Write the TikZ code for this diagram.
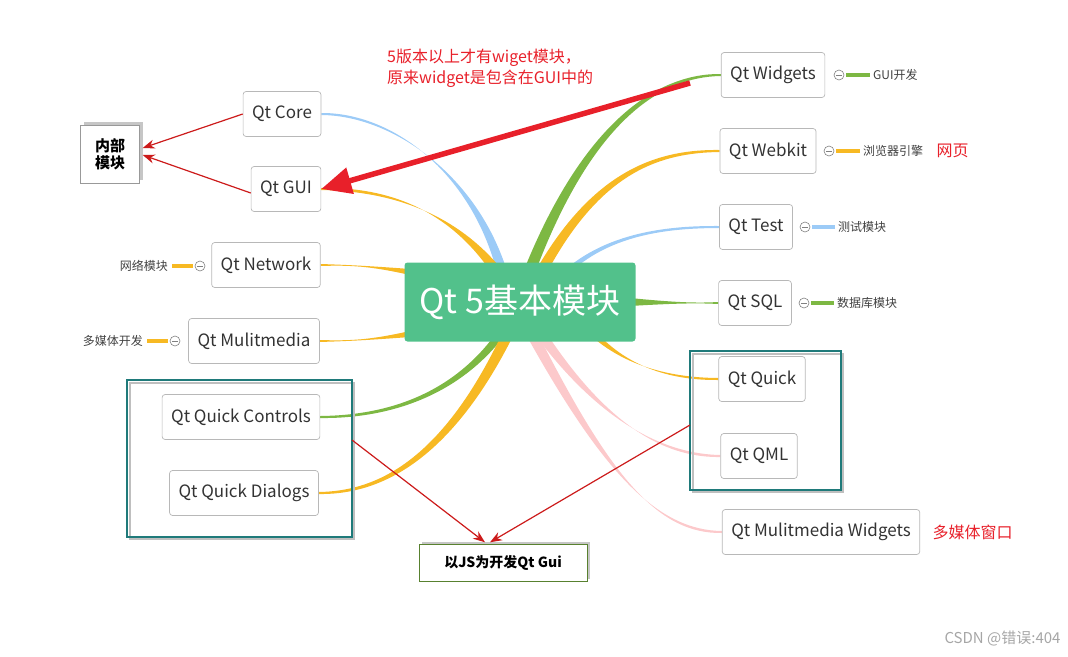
\documentclass[tikz,border=0pt]{standalone}
\usepackage{fontspec}
\setmainfont{Noto Sans CJK SC}
\usetikzlibrary{calc,shadows,arrows.meta,backgrounds}
\definecolor{tgreen}{HTML}{52C18B}
\definecolor{bgreen}{HTML}{7DB843}
\definecolor{borange}{HTML}{F7B923}
\definecolor{bblue}{HTML}{9CCBF7}
\definecolor{bpink}{HTML}{FCC9CB}
\definecolor{teal}{HTML}{1F7A7A}
\definecolor{rred}{HTML}{E8202A}
\definecolor{dred}{HTML}{CC1B1B}
\definecolor{txt}{HTML}{333333}
\tikzset{x=1pt,y=-1pt,
 mod/.style={draw=black!28,rounded corners=3pt,fill=white,text=txt,font=\fontsize{17}{20}\selectfont,minimum height=45,inner xsep=9,line width=0.7},
 sub/.style={text=black!75,font=\fontsize{12}{14}\selectfont,inner sep=0},
 col/.style={draw=black!50,circle,minimum size=10,inner sep=0,line width=0.6,path picture={\draw[black!50,line width=0.6] ([xshift=-3pt]path picture bounding box.center) -- ([xshift=3pt]path picture bounding box.center);}},
 redtxt/.style={text=rred,font=\fontsize{16}{21}\selectfont},
 thinarr/.style={draw=dred,line width=1.2,-{Stealth[length=12,width=9]}},
 tbox/.style={draw=teal,line width=1.4},
 tshadow/.style={draw=black!25,line width=2.5}}
\newcommand{\branch}[6]{% color, start, c1, c2, end, halfwidth
 \fill[#1] ($#2+(-#6,0)$) .. controls ($#3+(-#6*0.6,-#6*0.3)$) and ($#4+(0,-#6*0.3)$) .. ($#5+(0,-1)$) -- ($#5+(0,1)$) .. controls ($#4+(0,#6*0.3)$) and ($#3+(#6*0.6,#6*0.3)$) .. ($#2+(#6,0)$) -- cycle;}
\newcommand{\hbranch}[6]{%
 \fill[#1] ($#2+(0,-#6)$) .. controls #3 and #4 .. ($#5+(0,-1)$) -- ($#5+(0,1)$) .. controls #4 and #3 .. ($#2+(0,#6)$) -- cycle;}
\begin{document}
\begin{tikzpicture}
\useasboundingbox (0,0) rectangle (1068,656);
\draw[tshadow] (130,383) rectangle (354,539);
\draw[tbox] (127,380) rectangle (352,537);
\draw[tshadow] (693,354) rectangle (843,492);
\draw[tbox] (690,351) rectangle (841,490);
\node[fill=tgreen,rounded corners=3pt,minimum width=231,minimum height=79,text=white,font=\fontsize{34}{38}\selectfont] (c) at (520,302) {Qt 5基本模块};
\node[mod] (core) at (282,114) {Qt Core};
\node[mod] (gui) at (286,189) {Qt GUI};
\node[mod] (net) at (266,265) {Qt Network};
\node[mod] (mm) at (254,341) {Qt Mulitmedia};
\node[mod] (qc) at (241,417) {Qt Quick Controls};
\node[mod] (qd) at (244,493) {Qt Quick Dialogs};
\node[mod] (wid) at (773,75) {Qt Widgets};
\node[mod] (web) at (768,151) {Qt Webkit};
\node[mod] (test) at (756,227) {Qt Test};
\node[mod] (sql) at (755,303) {Qt SQL};
\node[mod] (qk) at (762,379) {Qt Quick};
\node[mod] (qml) at (759,456) {Qt QML};
\node[mod] (mmw) at (821,532) {Qt Mulitmedia Widgets};
\begin{scope}[on background layer]
\branch{bblue}{(500,265)}{(470,170)}{(390,114)}{(core.east)}{5}
\branch{borange}{(492,265)}{(440,200)}{(370,189)}{(gui.east)}{6}
\branch{bgreen}{(532,265)}{(590,120)}{(660,75)}{(wid.west)}{6}
\branch{borange}{(545,265)}{(600,170)}{(660,151)}{(web.west)}{6}
\branch{bblue}{(575,265)}{(620,230)}{(680,227)}{(test.west)}{4}
\branch{bgreen}{(496,340)}{(440,410)}{(360,417)}{(qc.east)}{5}
\branch{borange}{(505,340)}{(440,470)}{(370,493)}{(qd.east)}{6}
\branch{borange}{(600,340)}{(640,375)}{(690,379)}{(qk.west)}{4}
\branch{bpink}{(545,340)}{(610,430)}{(670,456)}{(qml.west)}{6}
\branch{bpink}{(535,340)}{(610,480)}{(660,532)}{(mmw.west)}{6}
\hbranch{borange}{(410,272)}{(370,266)}{(350,265)}{(net.east)}{3}
\hbranch{borange}{(410,334)}{(370,340)}{(350,341)}{(mm.east)}{3}
\hbranch{bgreen}{(630,302)}{(680,303)}{(700,303)}{(sql.west)}{4}
\end{scope}
% sub labels
\node[col] (cw) at (839,75) {};
\draw[bgreen,line width=4] (cw.east) ++(2,0) -- (870,75) coordinate (lw);
\node[sub,anchor=west] at ($(lw)+(3,0)$) {GUI开发};
\node[col] (cwe) at (829,151) {};
\draw[borange,line width=4] (cwe.east) ++(2,0) -- (860,151) coordinate (lwe);
\node[sub,anchor=west] (wetx) at ($(lwe)+(3,0)$) {浏览器引擎};
\node[redtxt,anchor=west] at (933,151) {网页};
\node[col] (ct) at (805,227) {};
\draw[bblue,line width=4] (ct.east) ++(2,0) -- (835,227) coordinate (lt);
\node[sub,anchor=west] at ($(lt)+(3,0)$) {测试模块};
\node[col] (cs) at (804,303) {};
\draw[bgreen,line width=4] (cs.east) ++(2,0) -- (834,303) coordinate (ls);
\node[sub,anchor=west] at ($(ls)+(3,0)$) {数据库模块};
\node[col] (cn) at (200,266) {};
\draw[borange,line width=4] (cn.west) ++(-2,0) -- (172,266) coordinate (ln);
\node[sub,anchor=east] at ($(ln)+(-4,0)$) {网络模块};
\node[col] (cm) at (175,341) {};
\draw[borange,line width=4] (cm.west) ++(-2,0) -- (147,341) coordinate (lm);
\node[sub,anchor=east] at ($(lm)+(-4,0)$) {多媒体开发};
\node[redtxt,anchor=west] at (929,532) {多媒体窗口};
% annotation boxes
\node[draw=black!40,fill=white,drop shadow={opacity=0.45,shadow xshift=3,shadow yshift=-3},minimum width=59,minimum height=58,align=center,font=\fontsize{15}{17}\selectfont\bfseries,inner sep=2] (nb) at (110,154) {内部\\模块};
\node[draw=bgreen!70!black,fill=white,drop shadow={opacity=0.45,shadow xshift=3,shadow yshift=-3},minimum width=168,minimum height=37,font=\fontsize{14}{16}\selectfont\bfseries] (js) at (503,563) {以JS为开发Qt Gui};
\node[redtxt,anchor=north west,align=left,inner sep=0] at (387,49) {5版本以上才有wiget模块，\\原来widget是包含在GUI中的};
% arrows
\coordinate (wa) at (690,83);
\draw[rred,line width=5.5,-{Triangle[length=30,width=26]}] (wa) -- (gui.east);
\draw[thinarr] (core.west) -- ($(nb.east)+(3,-6)$);
\draw[thinarr] ($(gui.west)+(0,4)$) -- ($(nb.east)+(3,1)$);
\coordinate (qa) at (352,440);
\coordinate (qb) at (690,425);
\draw[thinarr] (qa) -- ($(js.north)+(-18,-2)$);
\draw[thinarr] (qb) -- ($(js.north)+(-13,-2)$);
\node[text=black!35,font=\fontsize{15}{17}\selectfont,anchor=east] at (1064,638) {CSDN @错误:404};
\end{tikzpicture}
\end{document}
